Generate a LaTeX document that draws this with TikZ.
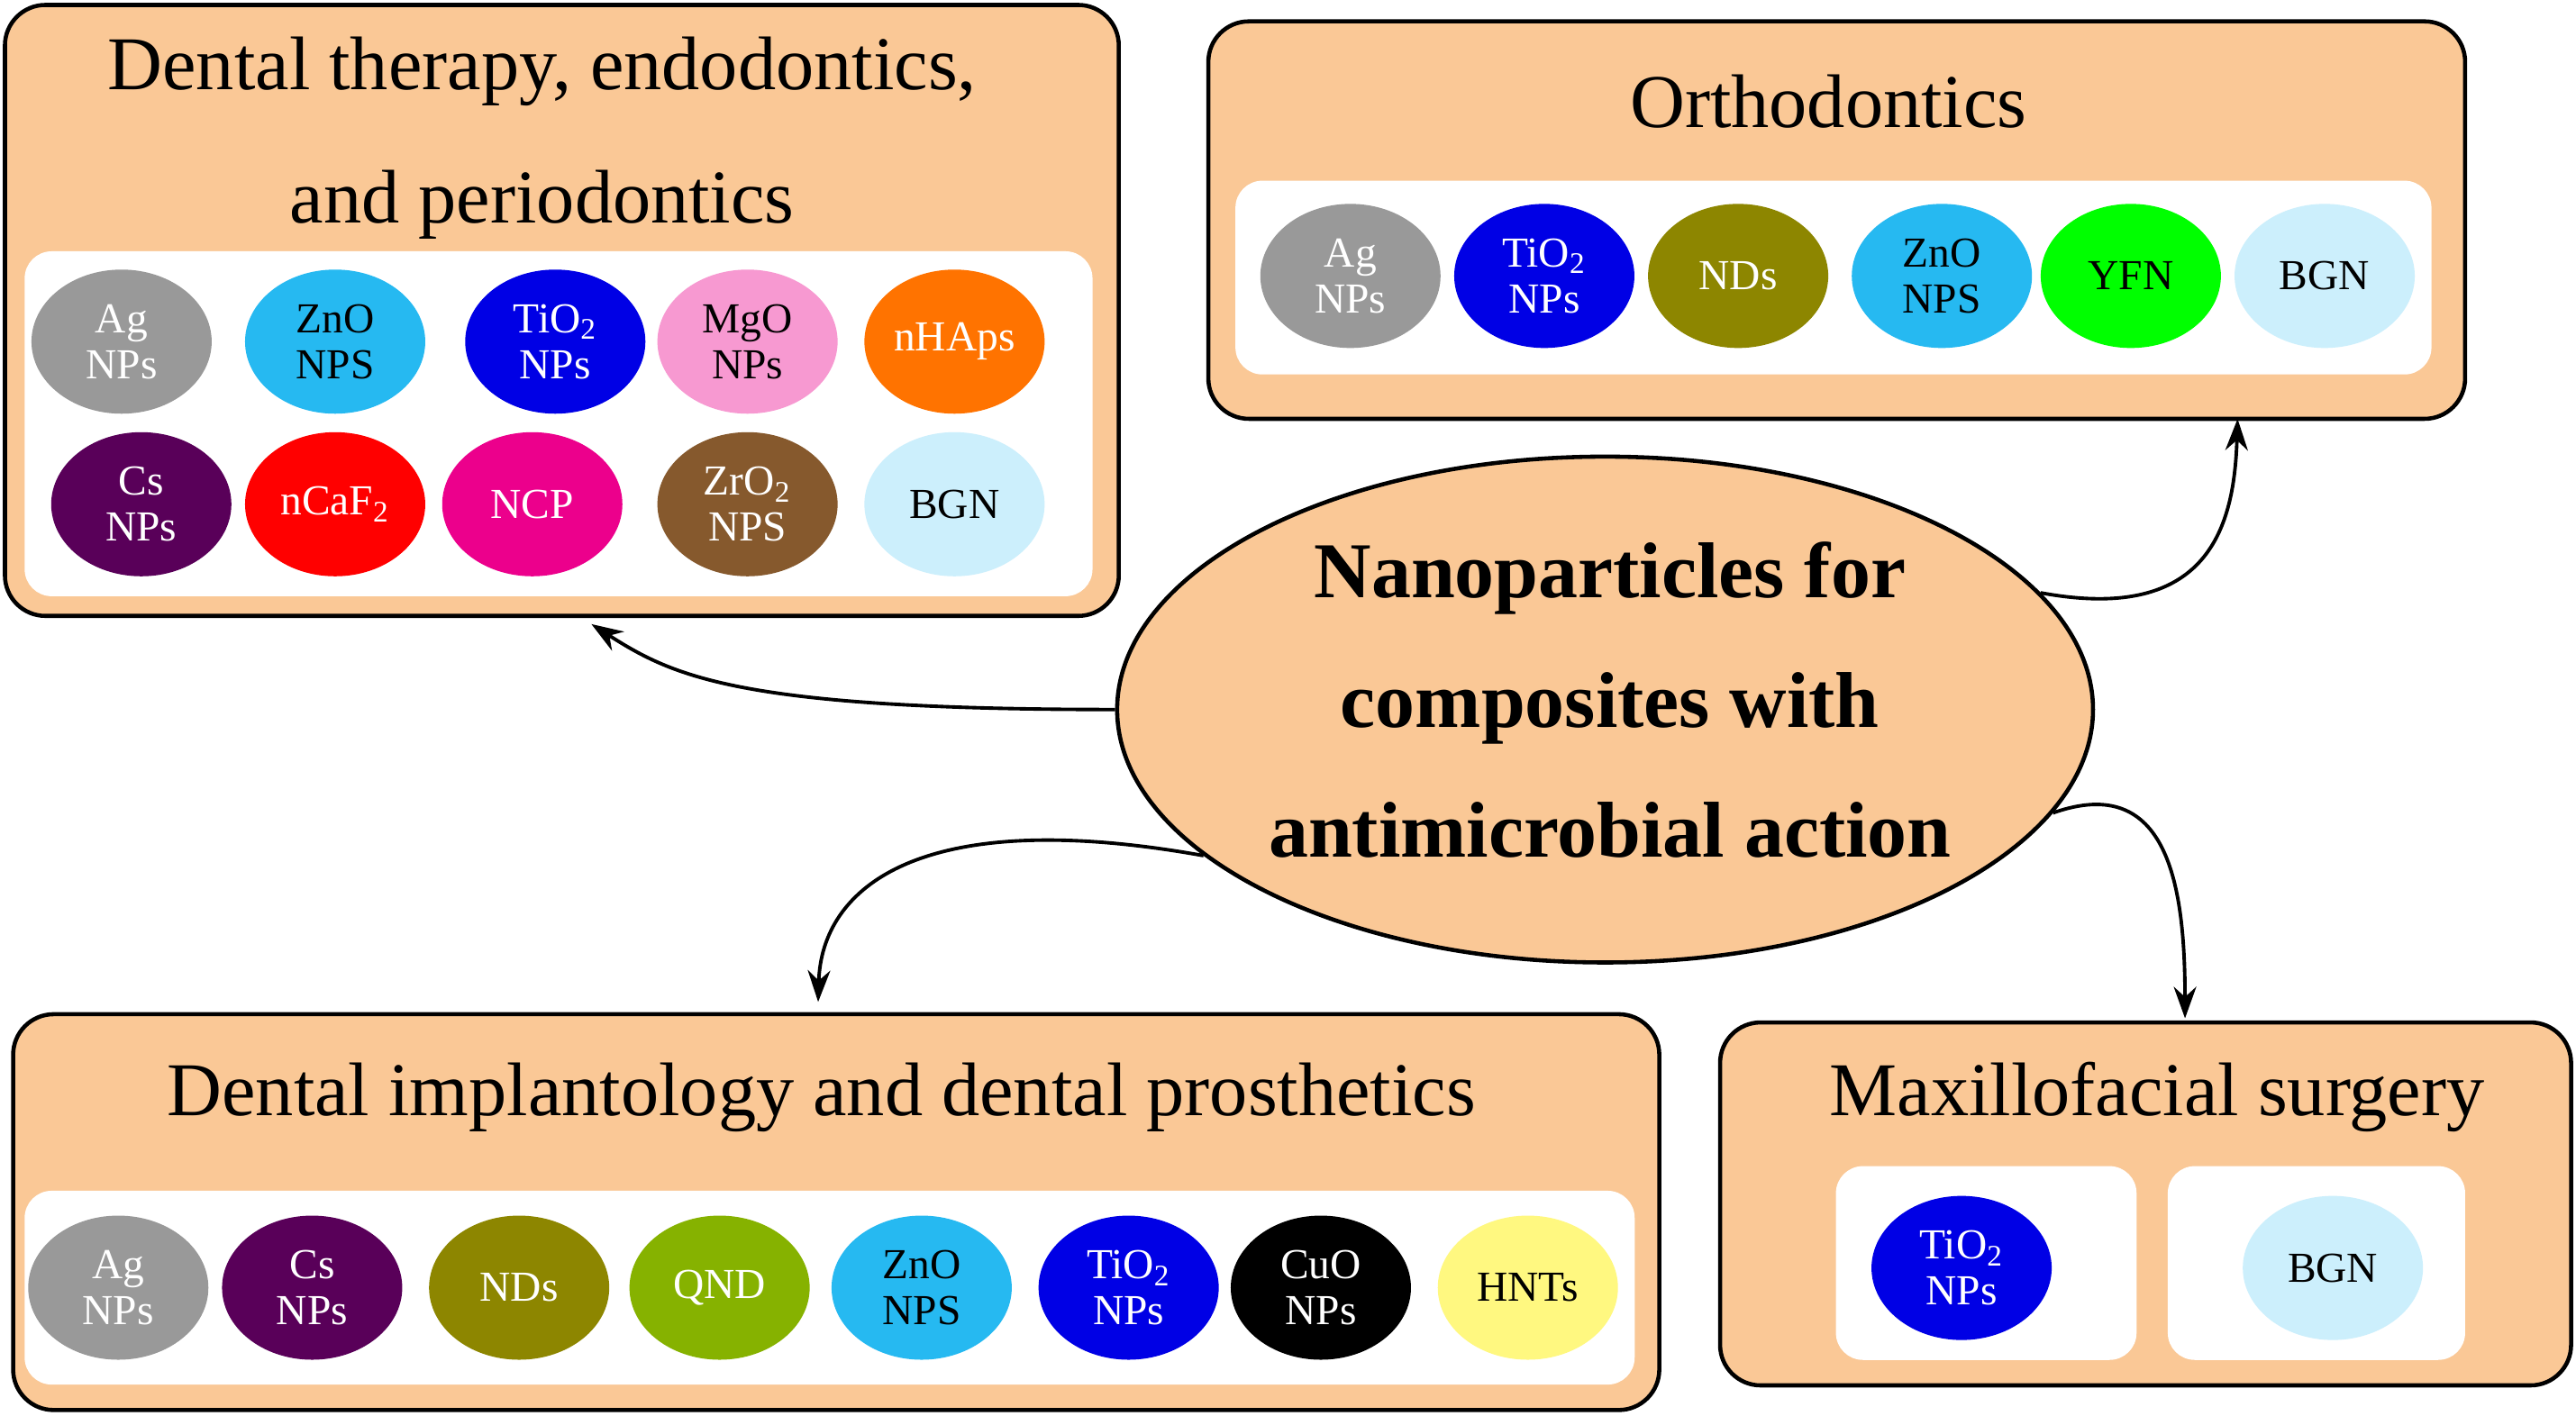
\documentclass[tikz,border=0pt]{standalone}
\usepackage{fontspec}
\setmainfont{Liberation Serif}
\usetikzlibrary{shapes.geometric,arrows.meta}
\definecolor{peach}{HTML}{FAC896}
\tikzset{
 box/.style={draw=black,line width=1.3pt,rounded corners=0.45cm,fill=peach,inner sep=0pt},
 inner/.style={fill=white,rounded corners=0.3cm,inner sep=0pt},
 np/.style={ellipse,inner sep=0pt,minimum width=2.0cm,minimum height=1.6cm,align=center,font=\fontsize{13.5}{14.5}\selectfont},
 ttl/.style={font=\fontsize{24}{42}\selectfont,align=center},
 arr/.style={-{Stealth[length=0.35cm,width=0.25cm]},line width=1.1pt}
}
\newcommand{\npn}[6]{\node[np,fill=#4,text=#5] (#1) at (#2,#3) {#6};}
\begin{document}
\begin{tikzpicture}[x=0.01823cm,y=-0.01823cm]
\useasboundingbox (0,0) rectangle (1568,862);
% boxes
\node[box,minimum width=678*0.01823cm,minimum height=372*0.01823cm] (b1) at (342,189) {};
\node[inner,minimum width=650*0.01823cm,minimum height=210*0.01823cm] (i1) at (340,258) {};
\node[ttl] (t1) at (330,84) {Dental therapy, endodontics,\\and periodontics};
\node[box,minimum width=765*0.01823cm,minimum height=242*0.01823cm] (b2) at (1118,134) {};
\node[inner,minimum width=728*0.01823cm,minimum height=118*0.01823cm] (i2) at (1116,169) {};
\node[ttl] (t2) at (1113,62) {Orthodontics};
\node[box,minimum width=1002*0.01823cm,minimum height=241*0.01823cm] (b3) at (509,738) {};
\node[inner,minimum width=980*0.01823cm,minimum height=118*0.01823cm] (i3) at (505,784) {};
\node[ttl] (t3) at (500,668) {Dental implantology and dental prosthetics};
\node[box,minimum width=518*0.01823cm,minimum height=221*0.01823cm] (b4) at (1306,733) {};
\node[inner,minimum width=183*0.01823cm,minimum height=118*0.01823cm] (i4a) at (1209,769) {};
\node[inner,minimum width=181*0.01823cm,minimum height=118*0.01823cm] (i4b) at (1410,769) {};
\node[ttl] (t4) at (1313,668) {Maxillofacial surgery};
% box 1 particles
\npn{a1}{74}{208}{gray!80}{white}{Ag\\NPs}
\npn{a2}{204}{208}{cyan!85}{black}{ZnO\\NPS}
\npn{a3}{338}{208}{blue!90!black}{white}{TiO\textsubscript{2}\\NPs}
\npn{a4}{455}{208}{magenta!40}{black}{MgO\\NPs}
\npn{a5}{581}{208}{orange!90!red}{white}{nHAps}
\npn{a6}{86}{307}{violet!70!black}{white}{Cs\\NPs}
\npn{a7}{204}{307}{red}{white}{nCaF\textsubscript{2}}
\npn{a8}{324}{307}{magenta}{white}{NCP}
\npn{a9}{455}{307}{brown!70!black}{white}{ZrO\textsubscript{2}\\NPS}
\npn{a10}{581}{307}{cyan!20}{black}{BGN}
% box 2
\npn{o1}{822}{168}{gray!80}{white}{Ag\\NPs}
\npn{o2}{940}{168}{blue!90!black}{white}{TiO\textsubscript{2}\\NPs}
\npn{o3}{1058}{168}{olive}{white}{NDs}
\npn{o4}{1182}{168}{cyan!85}{black}{ZnO\\NPS}
\npn{o5}{1297}{168}{green}{black}{YFN}
\npn{o6}{1415}{168}{cyan!20}{black}{BGN}
% box 3
\npn{d1}{72}{784}{gray!80}{white}{Ag\\NPs}
\npn{d2}{190}{784}{violet!70!black}{white}{Cs\\NPs}
\npn{d3}{316}{784}{olive}{white}{NDs}
\npn{d4}{438}{784}{lime!70!black}{white}{QND}
\npn{d5}{561}{784}{cyan!85}{black}{ZnO\\NPS}
\npn{d6}{687}{784}{blue!90!black}{white}{TiO\textsubscript{2}\\NPs}
\npn{d7}{804}{784}{black}{white}{CuO\\NPs}
\npn{d8}{930}{784}{yellow!50}{black}{HNTs}
% box 4
\npn{m1}{1194}{772}{blue!90!black}{white}{TiO\textsubscript{2}\\NPs}
\npn{m2}{1420}{772}{cyan!20}{black}{BGN}
% center
\node[ellipse,draw=black,line width=1.3pt,fill=peach,minimum width=594*0.01823cm,minimum height=308*0.01823cm,inner sep=0pt] (c) at (977,432) {};
\node[font=\bfseries\fontsize{25}{41}\selectfont,align=center] (ct) at (980,426) {Nanoparticles for\\composites with\\antimicrobial action};
\coordinate (e1) at (360,380);
\coordinate (e2) at (1362,255);
\coordinate (e3) at (498,610);
\coordinate (e4) at (1330,620);
\draw[arr] (c.west) .. controls (450,432) and (410,412) .. (e1);
\draw[arr] (c.15) .. controls (1345,380) and (1360,320) .. (e2);
\draw[arr] (c.200) .. controls (560,490) and (500,540) .. (e3);
\draw[arr] (c.-13) .. controls (1320,470) and (1330,540) .. (e4);
\end{tikzpicture}
\end{document}
